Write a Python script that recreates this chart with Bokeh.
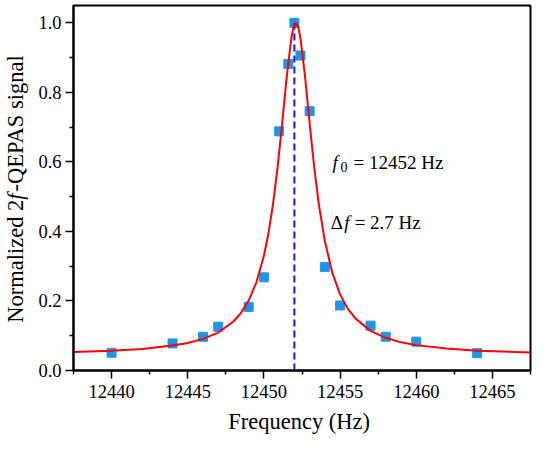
from bokeh.plotting import figure
from bokeh.models import Label, FixedTicker, Range1d, NumeralTickFormatter
from bokeh.layouts import row
from bokeh.core.properties import value
from bokeh.embed import file_html
from bokeh.resources import INLINE

# ---- data ----
freq_meas = [12440, 12444, 12446, 12447, 12449, 12450, 12451, 12451.6, 12452,
             12452.4, 12453, 12454, 12455, 12457, 12458, 12460, 12464]
signal_meas = [0.051, 0.078, 0.097, 0.126, 0.183, 0.268, 0.688, 0.882, 1.000,
               0.906, 0.746, 0.298, 0.187, 0.129, 0.097, 0.083, 0.050]

fit_freq = [12437.5, 12440, 12442, 12444, 12445, 12446, 12447, 12448, 12448.5,
            12449, 12449.5, 12450, 12450.3, 12450.6, 12450.9, 12451.2, 12451.5,
            12451.8, 12451.95, 12452.1, 12452.25, 12452.4, 12452.7, 12453.0,
            12453.3, 12453.6, 12454.0, 12454.5, 12455, 12455.5, 12456, 12457,
            12458, 12459, 12460, 12462, 12464, 12467.5]
fit_signal = [0.053, 0.057, 0.062, 0.072, 0.079, 0.091, 0.109, 0.141, 0.166,
              0.201, 0.253, 0.330, 0.395, 0.479, 0.585, 0.712, 0.846,
              0.956, 0.989, 1.000, 0.989, 0.956, 0.846, 0.712,
              0.585, 0.479, 0.372, 0.280, 0.219, 0.178, 0.150, 0.114,
              0.094, 0.081, 0.073, 0.063, 0.057, 0.052]

center_freq = [12452, 12452]
center_signal = [0.0, 1.0]

x_ticks = [12440, 12445, 12450, 12455, 12460, 12465]
x_minor = [12437.5, 12442.5, 12447.5, 12452.5, 12457.5, 12462.5, 12467.5]
y_ticks = [0.0, 0.2, 0.4, 0.6, 0.8, 1.0]
y_minor = [0.1, 0.3, 0.5, 0.7, 0.9]

x_label = "Frequency  (Hz)"
y_label_parts = ["Normalized 2", "f", "-QEPAS signal"]
f0_parts = ["f", "0", "= 12452 Hz"]
df_parts = ["\u0394", "f", "= 2.7 Hz"]

# ---- layout ----
LW = 30                      # strip holding the y label
W, H = 504, 438              # main figure
FL, FR, FT, FB = 43, 500, 5, 370
X0, X1, Y0, Y1 = 12437.5, 12467.5, 0.0, 1.05
FONT = "Liberation Serif"
LABEL_SIZE = 22.5
ANN_SIZE = "19px"

def dpx2x(d):
    return d * (X1 - X0) / (FR - FL)

def dpy2y(d):
    return d * (Y1 - Y0) / (FB - FT)

p = figure(width=W, height=H, x_range=Range1d(X0, X1), y_range=Range1d(Y0, Y1),
           output_backend="svg", toolbar_location=None,
           min_border_left=FL, min_border_right=W - FR,
           min_border_top=FT, min_border_bottom=H - FB)
p.grid.visible = False
p.background_fill_color = "white"
p.border_fill_color = "white"
p.outline_line_color = "black"
p.outline_line_width = 2

p.axis.axis_line_width = 2
p.axis.axis_line_color = "black"
p.axis.major_tick_line_color = "black"
p.axis.major_tick_line_width = 1.5
p.axis.minor_tick_line_color = "black"
p.axis.minor_tick_line_width = 1.5
p.axis.major_tick_in = 0
p.axis.major_tick_out = 8
p.axis.minor_tick_in = 0
p.axis.minor_tick_out = 4
p.axis.major_label_text_font = FONT
p.axis.major_label_text_font_size = "18.5px"
p.axis.major_label_text_color = "black"
p.yaxis.major_label_standoff = 4
p.xaxis.major_label_standoff = 6

p.xaxis.ticker = FixedTicker(ticks=x_ticks, minor_ticks=x_minor)
p.yaxis.ticker = FixedTicker(ticks=y_ticks, minor_ticks=y_minor)
p.xaxis.formatter = NumeralTickFormatter(format="0")
p.yaxis.formatter = NumeralTickFormatter(format="0.0")

p.xaxis.axis_label = x_label
p.xaxis.axis_label_text_font = FONT
p.xaxis.axis_label_text_font_size = f"{LABEL_SIZE}px"
p.xaxis.axis_label_text_font_style = "normal"
p.xaxis.axis_label_text_color = "black"
p.xaxis.axis_label_standoff = 8

# ---- glyphs ----
p.scatter(freq_meas, signal_meas, marker="square", size=9,
          fill_color="#1E96E8", line_color="#1E96E8")
p.line(center_freq, center_signal, line_color="#1515F0", line_width=2, line_dash="7 4")
p.line(fit_freq, fit_signal, line_color="#FF0000", line_width=2)

# ---- annotations ----
ax0, ay0 = 12454.5, 0.598
p.add_layout(Label(x=ax0, y=ay0, text=f0_parts[0], text_font=FONT, text_font_size=ANN_SIZE,
                   text_font_style="italic", text_color="black", text_baseline="alphabetic"))
p.add_layout(Label(x=ax0 + dpx2x(8), y=ay0 - dpy2y(4), text=f0_parts[1], text_font=FONT,
                   text_font_size="14px", text_color="black", text_baseline="alphabetic"))
p.add_layout(Label(x=ax0 + dpx2x(21), y=ay0, text=f0_parts[2], text_font=FONT,
                   text_font_size=ANN_SIZE, text_color="black", text_baseline="alphabetic"))

bx0, by0 = 12454.38, 0.426
p.add_layout(Label(x=bx0, y=by0, text=df_parts[0], text_font=FONT, text_font_size=ANN_SIZE,
                   text_color="black", text_baseline="alphabetic"))
p.add_layout(Label(x=bx0 + dpx2x(13.5), y=by0, text=df_parts[1], text_font=FONT,
                   text_font_size=ANN_SIZE, text_font_style="italic", text_color="black",
                   text_baseline="alphabetic"))
p.add_layout(Label(x=bx0 + dpx2x(24), y=by0, text=df_parts[2], text_font=FONT,
                   text_font_size=ANN_SIZE, text_color="black", text_baseline="alphabetic"))

# ---- y label strip (pixel coordinates, measured upward from the canvas bottom) ----
lab = figure(width=LW, height=H, x_range=Range1d(0, LW), y_range=Range1d(H - FB, H - FT),
             output_backend="svg", toolbar_location=None,
             min_border_left=0, min_border_right=0,
             min_border_top=FT, min_border_bottom=H - FB)
lab.axis.visible = False
lab.grid.visible = False
lab.outline_line_color = None
lab.background_fill_color = "white"
lab.border_fill_color = "white"

w0 = 5.471 * LABEL_SIZE
w1 = 0.278 * LABEL_SIZE + 2
total = w0 + w1 + 6.139 * LABEL_SIZE
center_up = H - (FT + FB) / 2
start = center_up - total / 2
offs = [start, start + w0, start + w0 + w1]
styles = ["normal", "italic", "normal"]
for txt, yy, st in zip(y_label_parts, offs, styles):
    lab.text(x=[15], y=[yy], text=[txt], angle=1.5707963,
             text_font=value(FONT), text_font_size=f"{LABEL_SIZE}px", text_font_style=st,
             text_color="black", text_align="left", text_baseline="alphabetic")

layout = row(lab, p)
open("out.html", "w").write(file_html(layout, INLINE))
